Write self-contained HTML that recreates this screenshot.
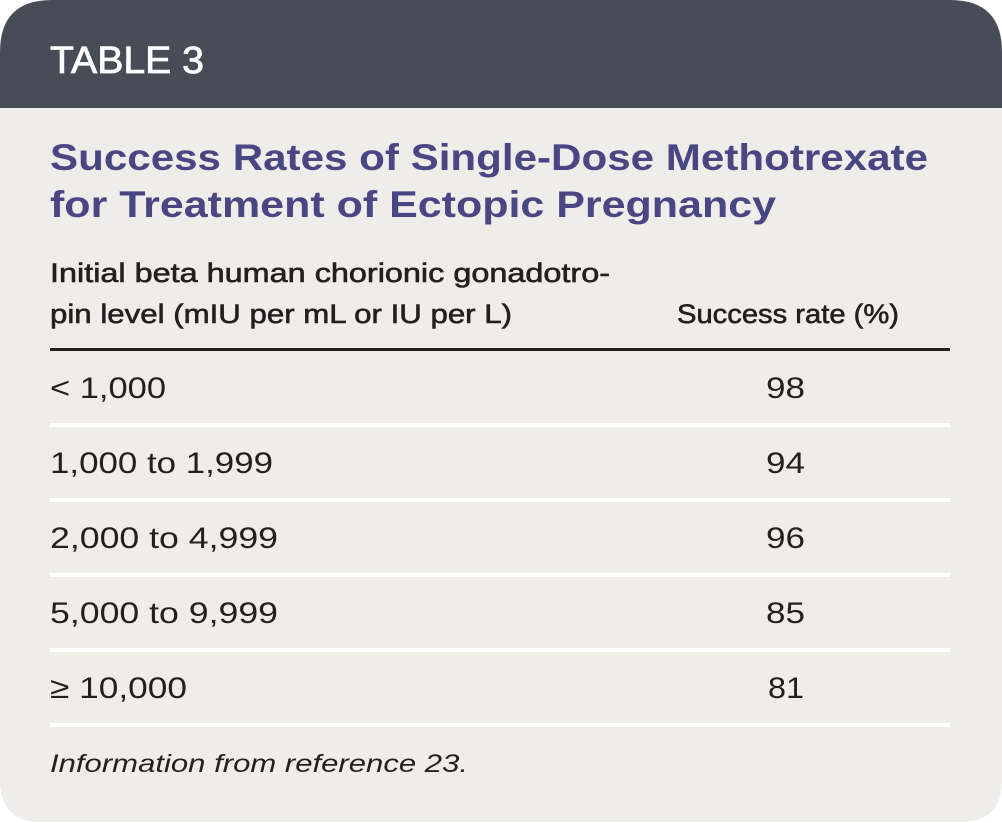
<!DOCTYPE html>
<html><head><meta charset="utf-8"><style>
html,body{margin:0;padding:0;background:#fff;}
svg{display:block;font-family:"Liberation Sans",sans-serif;}
</style></head><body>
<svg width="1002" height="823" viewBox="0 0 1002 823">
<path d="M0,100 L1002,100 L1002,780 Q1002,822 960,822 L42,822 Q0,822 0,780 Z" fill="#eeede9"/>
<path d="M0,108 L0,52 Q0,0 52,0 L950,0 Q1002,0 1002,52 L1002,108 Z" fill="#474c57"/>
<text x="50" y="73" font-size="38" fill="#fff" stroke="#fff" stroke-width="0.8" textLength="154" lengthAdjust="spacingAndGlyphs">TABLE 3</text>
<g fill="#4a4683" font-weight="bold" font-size="37">
<text x="50" y="170" textLength="878" lengthAdjust="spacingAndGlyphs">Success Rates of Single-Dose Methotrexate</text>
<text x="50" y="217" textLength="726" lengthAdjust="spacingAndGlyphs">for Treatment of Ectopic Pregnancy</text>
</g>
<g fill="#231f20" font-size="27" stroke="#231f20" stroke-width="0.6">
<text x="50" y="282" textLength="560" lengthAdjust="spacingAndGlyphs">Initial beta human chorionic gonadotro-</text>
<text x="50" y="323" textLength="462" lengthAdjust="spacingAndGlyphs">pin level (mIU per mL or IU per L)</text>
<text x="677" y="323" textLength="222" lengthAdjust="spacingAndGlyphs">Success rate (%)</text>
</g>
<rect x="50" y="348" width="900" height="3" fill="#231f20"/>
<g font-size="30" fill="#231f20">
<text x="50" y="398" textLength="116" lengthAdjust="spacingAndGlyphs">&lt; 1,000</text>
<text x="766" y="398" textLength="39" lengthAdjust="spacingAndGlyphs">98</text>
<rect x="50" y="423" width="900" height="4" fill="#fff"/>
<text x="50" y="473" textLength="223" lengthAdjust="spacingAndGlyphs">1,000 to 1,999</text>
<text x="766" y="473" textLength="39" lengthAdjust="spacingAndGlyphs">94</text>
<rect x="50" y="498" width="900" height="4" fill="#fff"/>
<text x="50" y="548" textLength="228" lengthAdjust="spacingAndGlyphs">2,000 to 4,999</text>
<text x="766" y="548" textLength="39" lengthAdjust="spacingAndGlyphs">96</text>
<rect x="50" y="573" width="900" height="4" fill="#fff"/>
<text x="50" y="623" textLength="228" lengthAdjust="spacingAndGlyphs">5,000 to 9,999</text>
<text x="766" y="623" textLength="39" lengthAdjust="spacingAndGlyphs">85</text>
<rect x="50" y="648" width="900" height="4" fill="#fff"/>
<text x="50" y="698" textLength="137" lengthAdjust="spacingAndGlyphs">≥ 10,000</text>
<text x="768" y="698" textLength="36" lengthAdjust="spacingAndGlyphs">81</text>
<rect x="50" y="723" width="900" height="4" fill="#fff"/>
</g>
<text x="50" y="772" font-size="25" font-style="italic" fill="#231f20" textLength="418" lengthAdjust="spacingAndGlyphs">Information from reference 23.</text>
</svg>
</body></html>
